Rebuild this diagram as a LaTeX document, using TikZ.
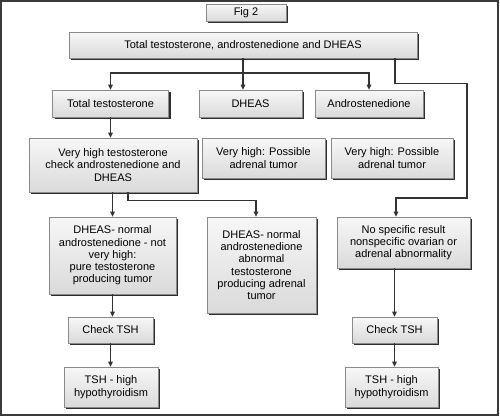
\documentclass[tikz,border=0pt]{standalone}
\usepackage{fontspec}
\setmainfont{Liberation Sans}
\usetikzlibrary{arrows.meta,shadows}
\definecolor{framec}{HTML}{3A3A3A}
\definecolor{boxline}{HTML}{8A8A8A}
\definecolor{shadowc}{HTML}{2E2E2E}
\definecolor{boxtop}{HTML}{F7F7F7}
\definecolor{boxbot}{HTML}{DADADA}
\definecolor{linec}{HTML}{333333}
\begin{document}
\begin{tikzpicture}[x=1pt,y=-1pt,
  box/.style={draw=boxline, line width=0.7pt, top color=boxtop, bottom color=boxbot,
    align=center, inner sep=0pt, font=\fontsize{11}{12.3}\selectfont,
    drop shadow={shadow xshift=2.2pt, shadow yshift=-2.2pt, fill=shadowc, opacity=1}},
  conn/.style={draw=linec, line width=1.3pt},
  arr/.style={conn, -{Triangle[length=5pt,width=4.5pt]}}]
\useasboundingbox (0,0) rectangle (500,418);
\fill[white] (0,0) rectangle (500,418);
\draw[framec, line width=1.5pt] (1,1) rectangle (498,415);

\node[box, minimum width=80, minimum height=17] (fig) at (246,12.5) {Fig 2};
\node[box, minimum width=348, minimum height=26] (top) at (243,45) {Total testosterone, androstenedione and DHEAS};
\node[box, minimum width=116, minimum height=27] (tt) at (110.5,103.5) {Total testosterone};
\node[box, minimum width=103, minimum height=27] (dheas) at (250.5,103.5) {DHEAS};
\node[box, minimum width=108, minimum height=27] (andro) at (369,103.5) {Androstenedione};
\node[box, minimum width=168, minimum height=54] (vht) at (113,165) {Very high testosterone\\check androstenedione and\\DHEAS};
\node[box, minimum width=123, minimum height=40] (vh1) at (263.5,158) {Very high: Possible\\adrenal tumor};
\node[box, minimum width=122, minimum height=40] (vh2) at (392,158) {Very high: Possible\\adrenal tumor};
\node[box, minimum width=127, minimum height=77] (d1) at (112.5,255.5) {DHEAS- normal\\androstenedione - not\\very high:\\pure testosterone\\producing tumor};
\node[box, minimum width=109, minimum height=96] (d2) at (261.5,265) {DHEAS- normal\\androstenedione\\abnormal\\testosterone\\producing adrenal\\tumor};
\node[box, minimum width=133, minimum height=51] (ns) at (403.5,242.5) {No specific result\\nonspecific ovarian or\\adrenal abnormality};
\node[box, minimum width=85, minimum height=26] (cts1) at (110.5,330) {Check TSH};
\node[box, minimum width=94, minimum height=40] (th1) at (111,387) {TSH - high\\hypothyroidism};
\node[box, minimum width=85, minimum height=26] (cts2) at (394.5,330) {Check TSH};
\node[box, minimum width=93, minimum height=40] (th2) at (391.5,387) {TSH - high\\hypothyroidism};

\coordinate (br) at (243,73);
\draw[conn] (top.south) -- (br);
\draw[arr] (br) -| (tt.north);
\draw[arr] (br) -- (br |- dheas.north);
\draw[arr] (br) -| (andro.north);
\draw[arr] ([xshift=152pt]top.south) -- ++(0,25) -| (467,198) -| ([xshift=-7.5pt]ns.north);

\draw[arr] (tt.south) -- (tt.south |- vht.north);
\draw[arr] (vht.south -| d1.north) -- (d1.north);
\draw[arr] ([xshift=15pt]vht.south) -- ++(0,8) -| ([xshift=-5.5pt]d2.north);
\draw[arr] (d1.south) -- (d1.south |- cts1.north);
\draw[arr] (cts1.south) -- (cts1.south |- th1.north);
\draw[arr] (ns.south -| cts2.north) -- (cts2.north);
\draw[arr] (cts2.south) -- (cts2.south |- th2.north);
\end{tikzpicture}
\end{document}
